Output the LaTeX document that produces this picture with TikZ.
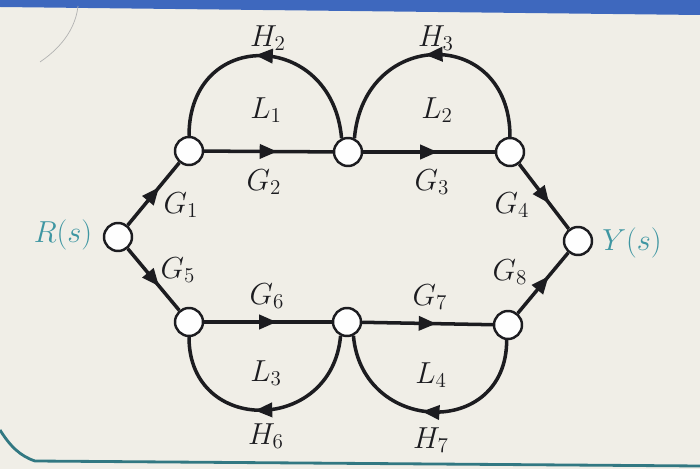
\documentclass[tikz,border=0pt]{standalone}
\usepackage{amsmath,amssymb}
\usepackage{tikz}
\usetikzlibrary{positioning, arrows.meta, decorations.markings}

\definecolor{screenbg}{RGB}{240,238,231}
\definecolor{barblue}{RGB}{62,104,190}
\definecolor{signalteal}{RGB}{62,150,162}
\definecolor{inkblack}{RGB}{28,28,32}

\begin{document}
\begin{tikzpicture}[
  x=0.02cm, y=-0.02cm,
  every node/.style={font=\fontsize{17.5}{20}\selectfont, text=inkblack},
  junction/.style={draw=inkblack, circle, line width=1.4pt, fill=white!96!screenbg, minimum size=0.56cm, inner sep=0pt},
  branch/.style={draw=inkblack, line width=2pt, postaction={decorate},
    decoration={markings, mark=at position 0.5 with {\arrow[xshift=5pt]{Triangle[length=10pt, width=8pt]}}}},
  gain/.style={inner sep=1pt}
]
% Screen background
\fill[screenbg] (0,0) rectangle (700,469);
\useasboundingbox (0,0) rectangle (700,469);
\fill[barblue] (0,0) -- (700,0) -- (700,15) -- (0,7) -- cycle;
\draw[gray!60, thin] (40,62) .. controls (65,45) and (76,25) .. (78,6);
\draw[signalteal!80!black, line width=1.6pt] (0,430) .. controls (10,446) and (20,456) .. (35,461) -- (700,466);

% Junctions
\node[junction] (rs) at (118,237) {};
\node[junction] (ta) at (189,151) {};
\node[junction] (tb) at (348,152) {};
\node[junction] (tc) at (510,152) {};
\node[junction] (ys) at (578,241) {};
\node[junction] (ba) at (189,322) {};
\node[junction] (bb) at (347,322) {};
\node[junction] (bc) at (508,325) {};

% Forward branches
\draw[branch] (rs) -- (ta);
\draw[branch] (ta) -- (tb);
\draw[branch] (tb) -- (tc);
\draw[branch] (tc) -- (ys);
\draw[branch] (rs) -- (ba);
\draw[branch] (ba) -- (bb);
\draw[branch] (bb) -- (bc);
\draw[branch] (bc) -- (ys);

% Feedback loops
\draw[branch] (tb.115) to[out=95, in=90, looseness=1.82] (ta.north);
\draw[branch] (tc.north) to[out=90, in=85, looseness=1.82] (tb.65);
\draw[branch] (bb.245) to[out=265, in=270, looseness=1.66] (ba.south);
\draw[branch] (bc.265) to[out=270, in=275, looseness=1.65] (bb.295);

% Input and output
\node[gain, text=signalteal] (rlabel) at (63,235) {$R(s)$};
\node[gain, text=signalteal] (ylabel) at (632,243) {$Y(s)$};

% Gains
\node[gain] (g1) at (181,205) {$G_1$};
\node[gain] (g2) at (264,182) {$G_2$};
\node[gain] (g3) at (432,182) {$G_3$};
\node[gain] (g4) at (512,205) {$G_4$};
\node[gain] (g5) at (178,270) {$G_5$};
\node[gain] (g6) at (267,296) {$G_6$};
\node[gain] (g7) at (430,297) {$G_7$};
\node[gain] (g8) at (510,272) {$G_8$};

% Feedback gains and loop names
\node[gain] (h2) at (268,38) {$H_2$};
\node[gain] (h3) at (436,38) {$H_3$};
\node[gain] (h6) at (266,436) {$H_6$};
\node[gain] (h7) at (431,440) {$H_7$};
\node[gain] (l1) at (266,110) {$L_1$};
\node[gain] (l2) at (437,110) {$L_2$};
\node[gain] (l3) at (266,373) {$L_3$};
\node[gain] (l4) at (431,375) {$L_4$};

\end{tikzpicture}
\end{document}
